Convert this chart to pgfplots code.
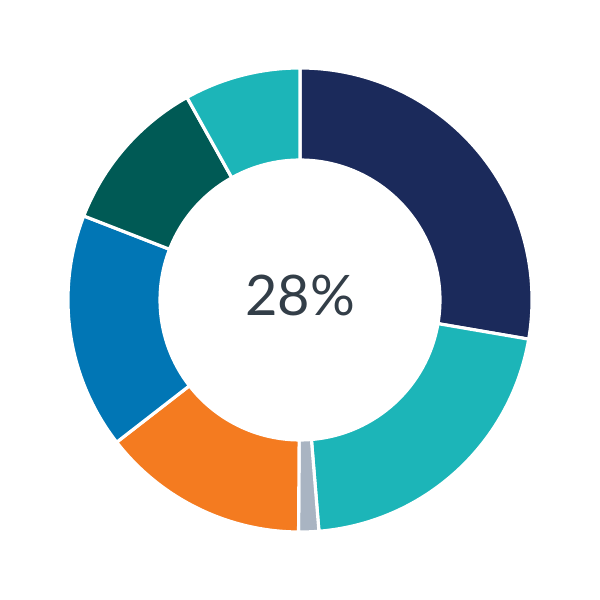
\documentclass[border=0pt]{standalone}
\usepackage{pgfplots}
\usepackage{pgfplotstable}
\pgfplotsset{compat=1.18}
\usepackage{fontspec}
\setmainfont{Lato}

\definecolor{cNavy}{HTML}{1B2A5B}
\definecolor{cTeal}{HTML}{1CB5B8}
\definecolor{cSlate}{HTML}{A9B4C2}
\definecolor{cOrange}{HTML}{F47B20}
\definecolor{cBlue}{HTML}{0176B5}
\definecolor{cPine}{HTML}{005A55}
\definecolor{cText}{HTML}{333E48}

% share of each segment, clockwise from 12 o'clock
\pgfplotstableread{
value colour
27.7  cNavy
21.0  cTeal
1.4   cSlate
14.4  cOrange
16.4  cBlue
11.0  cPine
8.1   cTeal
}\donut

\begin{document}
\begin{tikzpicture}
\begin{axis}[
    hide axis,
    scale only axis,
    x=1cm, y=1cm,
    xmin=-5, xmax=5,
    ymin=-5, ymax=5,
    clip=false,
    anchor=center, at={(0,0)}
]
\pgfplotsextra{
  \pgfplotstablegetrowsof{\donut}
  \pgfmathtruncatemacro\last{\pgfplotsretval-1}
  \gdef\cum{0}
  \foreach \i in {0,...,\last}{
    \pgfplotstablegetelem{\i}{value}\of\donut
    \let\v\pgfplotsretval
    \pgfplotstablegetelem{\i}{colour}\of\donut
    \let\c\pgfplotsretval
    \pgfmathsetmacro\a{90-3.6*\cum}
    \pgfmathsetmacro\b{90-3.6*(\cum+\v)}
    \fill[fill=\c, draw=white, line width=1.5pt]
      (axis cs:{3.867*cos(\a)},{3.867*sin(\a)})
      arc[start angle=\a, end angle=\b, radius=3.867cm]
      -- (axis cs:{2.333*cos(\b)},{2.333*sin(\b)})
      arc[start angle=\b, end angle=\a, radius=2.333cm]
      -- cycle;
    \pgfmathsetmacro\n{\cum+\v}
    \xdef\cum{\n}
  }
}
\node[text=cText, font=\fontsize{26.5}{30}\selectfont] at (axis cs:0,0.08) {28\%};
\end{axis}
\pgfresetboundingbox
\path (-5,-5) rectangle (5,5);
\end{tikzpicture}
\end{document}
